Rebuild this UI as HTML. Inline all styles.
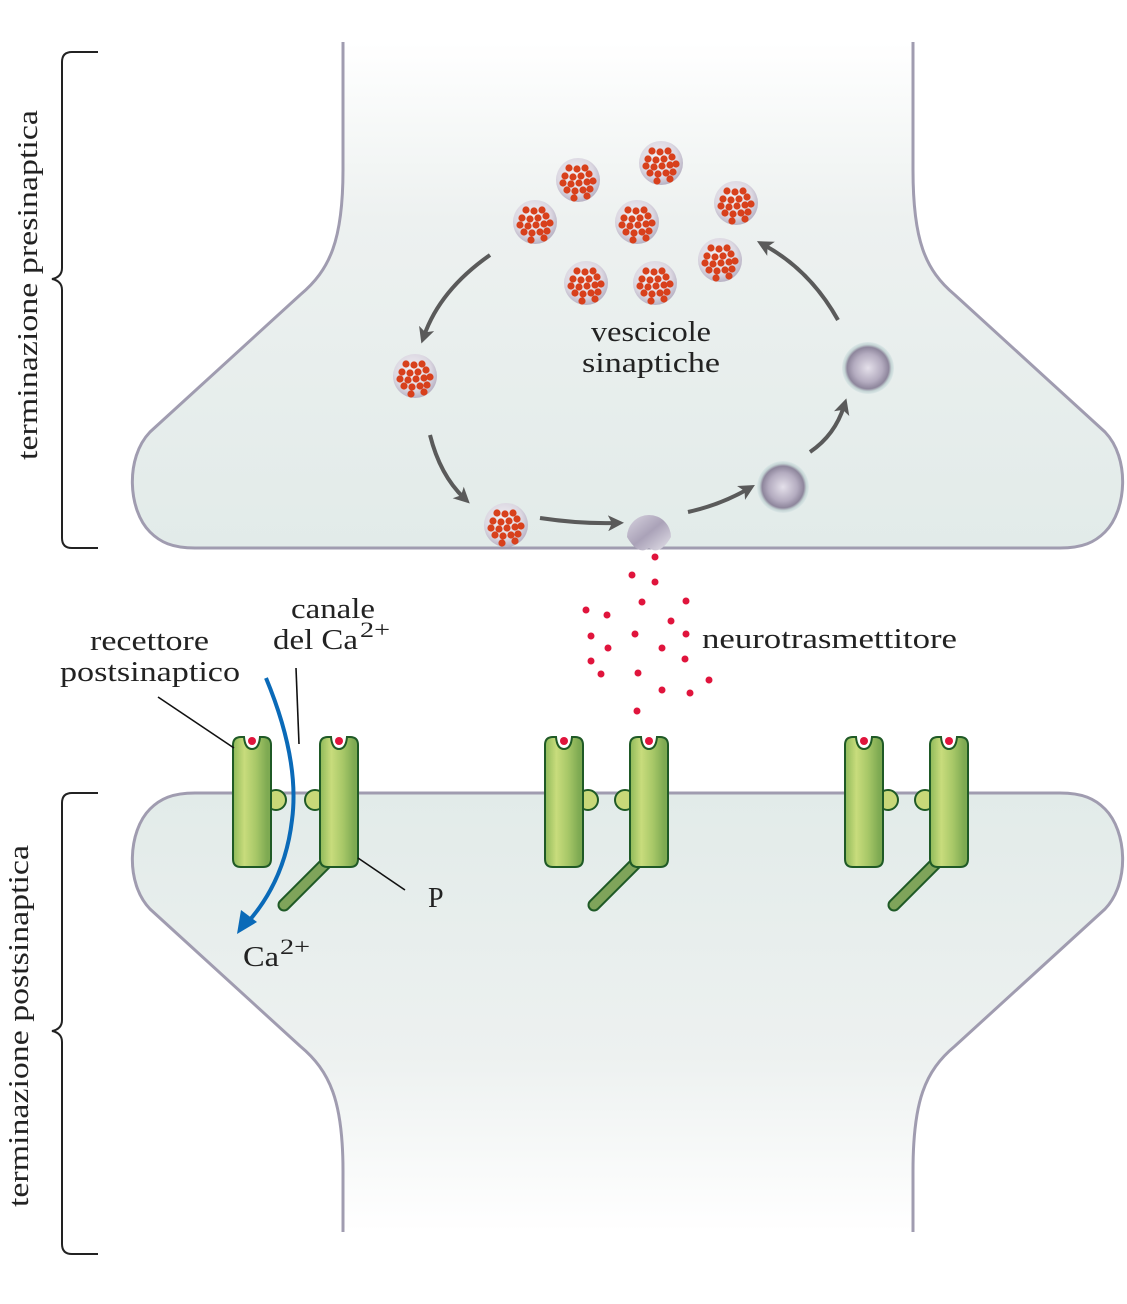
<!DOCTYPE html>
<html><head><meta charset="utf-8"><style>
html,body{margin:0;padding:0;background:#fff}
svg{display:block}
text{font-family:"Liberation Serif",serif;fill:#222}
</style></head><body>
<svg width="1127" height="1304" viewBox="0 0 1127 1304" xmlns="http://www.w3.org/2000/svg">
<defs>
<linearGradient id="pre" x1="0" y1="0" x2="0" y2="1">
<stop offset="0" stop-color="#ffffff"/><stop offset="0.35" stop-color="#edf1f0"/><stop offset="1" stop-color="#e2ebe9"/>
</linearGradient>
<linearGradient id="post" x1="0" y1="0" x2="0" y2="1">
<stop offset="0" stop-color="#e2ebe9"/><stop offset="0.6" stop-color="#edf1f0"/><stop offset="1" stop-color="#ffffff"/>
</linearGradient>
<radialGradient id="ves" cx="0.45" cy="0.4" r="0.6">
<stop offset="0" stop-color="#f4f2f6"/><stop offset="0.7" stop-color="#dcd8e2"/><stop offset="1" stop-color="#b8b2c4"/>
</radialGradient>
<radialGradient id="empty" cx="0.5" cy="0.5" r="0.5">
<stop offset="0" stop-color="#e4e0ea"/><stop offset="0.55" stop-color="#b4acc0"/><stop offset="0.8" stop-color="#8e869c"/><stop offset="0.9" stop-color="#c4d4d4"/><stop offset="1" stop-color="#dde8e8"/>
</radialGradient>
<linearGradient id="fused" x1="0" y1="0" x2="1" y2="1">
<stop offset="0" stop-color="#d8d4e0"/><stop offset="0.5" stop-color="#aaa2b8"/><stop offset="1" stop-color="#e4e2ea"/>
</linearGradient>
<linearGradient id="grn" x1="0" y1="0" x2="1" y2="0">
<stop offset="0" stop-color="#8fba5a"/><stop offset="0.3" stop-color="#c8dc7c"/><stop offset="0.6" stop-color="#a8c868"/><stop offset="0.9" stop-color="#7eaa52"/>
</linearGradient>
<g id="v">
<circle r="22" fill="url(#ves)"/>
<g fill="#d8401c">
<circle cx="-9" cy="-12" r="3.6"/><circle cx="-1" cy="-11" r="3.6"/><circle cx="7" cy="-12" r="3.6"/>
<circle cx="-13" cy="-4" r="3.6"/><circle cx="-5" cy="-3" r="3.6"/><circle cx="3" cy="-4" r="3.6"/><circle cx="11" cy="-6" r="3.6"/>
<circle cx="-15" cy="3" r="3.6"/><circle cx="-7" cy="4" r="3.6"/><circle cx="1" cy="3" r="3.6"/><circle cx="9" cy="2" r="3.6"/><circle cx="15" cy="1" r="3.6"/>
<circle cx="-11" cy="10" r="3.6"/><circle cx="-3" cy="11" r="3.6"/><circle cx="5" cy="10" r="3.6"/><circle cx="12" cy="9" r="3.6"/>
<circle cx="-4" cy="18" r="3.6"/><circle cx="9" cy="16" r="3.6"/>
</g>
</g>
<path id="body" d="M0,8 Q0,0 8,0 L11,0 Q12,12 19,12 Q26,12 27,0 L30,0 Q38,0 38,8 L38,122 Q38,130 30,130 L8,130 Q0,130 0,122 Z" fill="url(#grn)" stroke="#1f5a26" stroke-width="2"/>
<g id="rec">
<circle cx="43" cy="63" r="10" fill="#c8d878" stroke="#1f5a26" stroke-width="2"/>
<use href="#body"/>
<circle cx="19" cy="4" r="4" fill="#e0143c"/>
</g>
<g id="rec2">
<path d="M8,124 L-36,168" stroke="#1f5a26" stroke-width="13" stroke-linecap="round"/>
<path d="M8,124 L-36,168" stroke="#7fa45a" stroke-width="9" stroke-linecap="round"/>
<circle cx="-5" cy="63" r="10" fill="#c8d878" stroke="#1f5a26" stroke-width="2"/>
<use href="#body"/>
<circle cx="19" cy="4" r="4" fill="#e0143c"/>
</g>
<marker id="ah" markerWidth="16" markerHeight="16" refX="8" refY="8" orient="auto" markerUnits="userSpaceOnUse" viewBox="0 0 16 16">
<path d="M0,0 L16,8 L0,16 L4,8 Z" fill="#5a5a5a"/>
</marker>
</defs>

<path d="M343,42 L343,170 C343,240 330,270 300,295 L150,432 C125,458 128,510 150,532 C160,542 172,548 195,548 L1060,548 C1083,548 1095,542 1105,532 C1127,510 1130,458 1105,432 L955,295 C925,270 913,240 913,170 L913,42 Z" fill="url(#pre)"/>
<path d="M343,42 L343,170 C343,240 330,270 300,295 L150,432 C125,458 128,510 150,532 C160,542 172,548 195,548 L1060,548 C1083,548 1095,542 1105,532 C1127,510 1130,458 1105,432 L955,295 C925,270 913,240 913,170 L913,42" fill="none" stroke="#a09cb0" stroke-width="3"/>

<path d="M195,793 L1060,793 C1083,793 1095,799 1105,809 C1127,831 1130,883 1105,909 L955,1046 C925,1071 913,1101 913,1171 L913,1232 L343,1232 L343,1171 C343,1101 330,1071 300,1046 L150,909 C125,883 128,831 150,809 C160,799 172,793 195,793 Z" fill="url(#post)"/>
<path d="M343,1232 L343,1171 C343,1101 330,1071 300,1046 L150,909 C125,883 128,831 150,809 C160,799 172,793 195,793 L1060,793 C1083,793 1095,799 1105,809 C1127,831 1130,883 1105,909 L955,1046 C925,1071 913,1101 913,1171 L913,1232" fill="none" stroke="#a09cb0" stroke-width="3"/>

<path d="M98,52 L72,52 Q62,52 62,62 L62,268 Q62,277 52,279 Q62,281 62,290 L62,538 Q62,548 72,548 L98,548" fill="none" stroke="#222" stroke-width="2"/>
<path d="M98,793 L72,793 Q62,793 62,803 L62,1020 Q62,1029 52,1031 Q62,1033 62,1042 L62,1244 Q62,1254 72,1254 L98,1254" fill="none" stroke="#222" stroke-width="2"/>
<text transform="translate(37,285) rotate(-90)" text-anchor="middle" font-size="28" textLength="350" lengthAdjust="spacingAndGlyphs">terminazione presinaptica</text>
<text transform="translate(28,1026) rotate(-90)" text-anchor="middle" font-size="28" textLength="362" lengthAdjust="spacingAndGlyphs">terminazione postsinaptica</text>

<use href="#v" x="578" y="180"/><use href="#v" x="661" y="163"/><use href="#v" x="736" y="203"/>
<use href="#v" x="535" y="222"/><use href="#v" x="637" y="222"/><use href="#v" x="720" y="260"/>
<use href="#v" x="586" y="283"/><use href="#v" x="655" y="283"/>
<use href="#v" x="415" y="376"/><use href="#v" x="506" y="525"/>
<circle cx="868" cy="368" r="26" fill="url(#empty)"/>
<circle cx="783" cy="487" r="26" fill="url(#empty)"/>
<path d="M627,537 A22,22 0 1 1 671,537 Q660,556 649,548 Q638,556 627,537 Z" fill="url(#fused)"/>

<g fill="none" stroke="#5a5a5a" stroke-width="4" marker-end="url(#ah)">
<path d="M490,255 Q440,290 424,336"/>
<path d="M430,435 Q440,475 464,498"/>
<path d="M540,518 Q580,524 616,523"/>
<path d="M688,512 Q720,505 748,489"/>
<path d="M810,452 Q835,435 844,406"/>
<path d="M838,320 Q810,270 764,245"/>
</g>

<g fill="#e0143c">
<circle cx="655" cy="557" r="3.5"/><circle cx="632" cy="575" r="3.5"/><circle cx="655" cy="582" r="3.5"/><circle cx="642" cy="602" r="3.5"/><circle cx="686" cy="601" r="3.5"/><circle cx="586" cy="610" r="3.5"/><circle cx="607" cy="615" r="3.5"/><circle cx="671" cy="621" r="3.5"/><circle cx="591" cy="636" r="3.5"/><circle cx="635" cy="634" r="3.5"/><circle cx="686" cy="634" r="3.5"/><circle cx="608" cy="648" r="3.5"/><circle cx="662" cy="648" r="3.5"/><circle cx="591" cy="661" r="3.5"/><circle cx="685" cy="659" r="3.5"/><circle cx="601" cy="674" r="3.5"/><circle cx="638" cy="673" r="3.5"/><circle cx="709" cy="680" r="3.5"/><circle cx="662" cy="690" r="3.5"/><circle cx="690" cy="693" r="3.5"/><circle cx="637" cy="711" r="3.5"/>
</g>

<use href="#rec" x="233" y="737"/><use href="#rec2" x="320" y="737"/>
<use href="#rec" x="545" y="737"/><use href="#rec2" x="630" y="737"/>
<use href="#rec" x="845" y="737"/><use href="#rec2" x="930" y="737"/>

<g stroke="#111" stroke-width="1.6" fill="none">
<path d="M158,697 L234,748"/>
<path d="M296,668 L299,744"/>
<path d="M358,858 L405,890"/>
</g>
<path d="M266,678 Q300,760 292,820 Q285,880 248,922" fill="none" stroke="#0a6ab8" stroke-width="4"/>
<path d="M237,934 L241,910 L257,922 Z" fill="#0a6ab8"/>

<text x="591" y="341" font-size="28" textLength="120" lengthAdjust="spacingAndGlyphs">vescicole</text>
<text x="582" y="372" font-size="28" textLength="138" lengthAdjust="spacingAndGlyphs">sinaptiche</text>
<text x="702" y="648" font-size="28" textLength="255" lengthAdjust="spacingAndGlyphs">neurotrasmettitore</text>
<text x="90" y="650" font-size="28" textLength="119" lengthAdjust="spacingAndGlyphs">recettore</text>
<text x="60" y="681" font-size="28" textLength="180" lengthAdjust="spacingAndGlyphs">postsinaptico</text>
<text x="291" y="618" font-size="28" textLength="84" lengthAdjust="spacingAndGlyphs">canale</text>
<text x="273" y="649" font-size="28" textLength="85" lengthAdjust="spacingAndGlyphs">del Ca</text>
<text x="360" y="637" font-size="22" textLength="30" lengthAdjust="spacingAndGlyphs">2+</text>
<text x="428" y="907" font-size="28">P</text>
<text x="243" y="966" font-size="28" textLength="36" lengthAdjust="spacingAndGlyphs">Ca</text>
<text x="280" y="954" font-size="22" textLength="30" lengthAdjust="spacingAndGlyphs">2+</text>
</svg>
</body></html>
